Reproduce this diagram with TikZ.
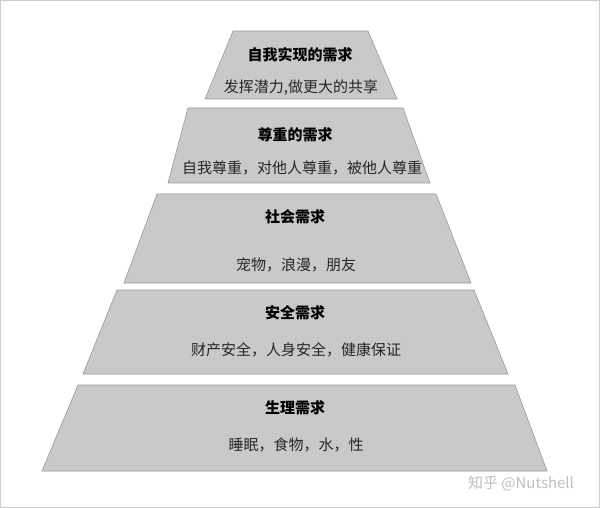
\documentclass[tikz,border=0pt]{standalone}
\usepackage{fontspec}
\newfontfamily\cjk{Noto Sans CJK SC}
\newfontfamily\cjkb{Noto Sans CJK SC}[BoldFont={Noto Sans CJK SC Bold}]
\begin{document}
\begin{tikzpicture}[x=1pt,y=-1pt,
  layer/.style={fill=black!21,draw=black!40,line width=0.6pt},
  ttl/.style={font=\cjk\bfseries\fontsize{15}{18}\selectfont},
  sub/.style={font=\cjk\fontsize{15}{18}\selectfont,text=black!85}]
\useasboundingbox (0,0) rectangle (600,508);
\fill[white] (0,0) rectangle (600,508);
\draw[black!20] (0.5,0.5) rectangle (599.5,507.5);
\draw[layer] (233,31) -- (368,31) -- (397,99) -- (205,99) -- cycle;
\draw[layer] (188,108) -- (403,108) -- (430,183) -- (168,183) -- cycle;
\draw[layer] (157,194) -- (436,194) -- (471,283) -- (124,283) -- cycle;
\draw[layer] (117,290) -- (474,290) -- (508,374) -- (83,374) -- cycle;
\draw[layer] (78,385) -- (515,385) -- (547,471) -- (42,471) -- cycle;
\node[ttl] (t1) at (300,55) {自我实现的需求};
\node[sub] (s1) at (301,88) {发挥潜力,做更大的共享};
\node[ttl] (t2) at (295,135) {尊重的需求};
\node[sub] (s2) at (302,168) {自我尊重，对他人尊重，被他人尊重};
\node[ttl] (t3) at (295,217) {社会需求};
\node[sub] (s3) at (296,265) {宠物，浪漫，朋友};
\node[ttl] (t4) at (295,313) {安全需求};
\node[sub] (s4) at (296,350) {财产安全，人身安全，健康保证};
\node[ttl] (t5) at (295,408) {生理需求};
\node[sub] (s5) at (296,445) {睡眠，食物，水，性};
\node[font=\cjk\fontsize{15}{18}\selectfont,text=black!25] (wm) at (521,483) {知乎 @Nutshell};
\end{tikzpicture}
\end{document}
